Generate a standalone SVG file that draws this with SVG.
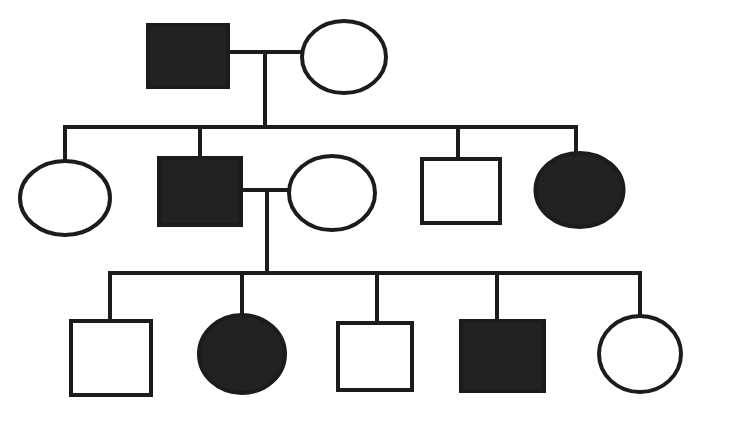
<svg xmlns="http://www.w3.org/2000/svg" width="744" height="437" viewBox="0 0 744 437">
<style>
.n{stroke:#1c1c1c;stroke-width:4;fill:#fff}
.a{fill:#222}
.c{stroke:#1c1c1c;stroke-width:4;fill:none;stroke-linecap:square}
</style>
<rect width="744" height="437" fill="#fff"/>
<g id="connectors">
<path class="c" d="M230 52H300M265 52V127M65 127H576M65 127V160M200 127V157M458 127V157M576 127V151"/>
<path class="c" d="M243 190H287M267 190V273M110 273H640M110 273V319M242 273V313M377 273V321M497 273V319M640 273V314"/>
</g>
<g id="I1"><rect class="n a" x="148" y="25" width="80" height="62"/></g>
<g id="I2"><ellipse class="n" cx="344" cy="57" rx="42" ry="36"/></g>
<g id="II1"><ellipse class="n" cx="65" cy="198" rx="45" ry="37"/></g>
<g id="II2"><rect class="n a" x="159" y="158" width="82" height="67"/></g>
<g id="II3"><ellipse class="n" cx="332" cy="193" rx="43" ry="37"/></g>
<g id="II4"><rect class="n" x="422" y="159" width="78" height="64"/></g>
<g id="II5"><ellipse class="n a" cx="579.5" cy="190" rx="44" ry="37"/></g>
<g id="III1"><rect class="n" x="71" y="321" width="80" height="74"/></g>
<g id="III2"><ellipse class="n a" cx="242" cy="354" rx="43" ry="39"/></g>
<g id="III3"><rect class="n" x="338" y="323" width="74" height="67"/></g>
<g id="III4"><rect class="n a" x="461" y="321" width="83" height="70"/></g>
<g id="III5"><ellipse class="n" cx="640" cy="354" rx="41" ry="38"/></g>
</svg>
